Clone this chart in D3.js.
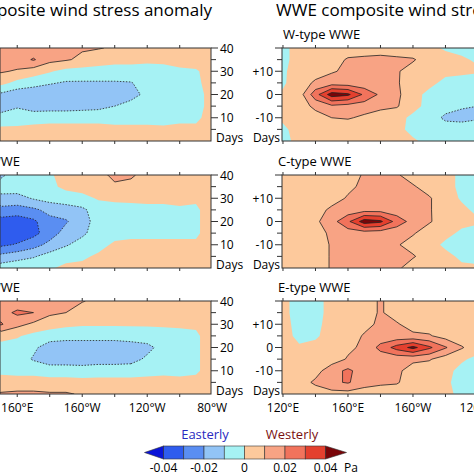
<!DOCTYPE html>
<html><head><meta charset="utf-8">
<script src="https://cdn.jsdelivr.net/npm/d3@7"></script>
<style>body{margin:0;background:#fff}text{font-family:"Open Sans",sans-serif}</style>
</head><body><svg id="c" width="474" height="474"></svg>
<script>
// wind stress anomaly, units of 0.01 Pa; rows from top (latest day) to bottom
var leftLons = [150,160,170,180,190,200,210,220,230,240,250,260,270,280];
var leftDays = [40,35,30,25,20,15,10,5,0];
var rightLons = [120,130,140,150,160,170,180,190,200,210,220,230,240];
var rightDays = [20,15,10,5,0,-5,-10,-15,-20];

var allWWE = [
 [1.5,1.4,1.3,1.2,1.15,1.1,1.05,0.9,0.5,0.4,0.3,0.3,0.3,0.3],
 [1.4,1.5,2.1,1.3,1.1,0.8,0.5,0.3,0.3,0.2,0.2,0.2,0.2,0.3],
 [1.1,0.9,0.5,0.1,-0.3,-0.4,-0.4,-0.4,-0.4,-0.4,-0.3,-0.1,-0.05,0.2],
 [0.3,-0.3,-0.6,-0.9,-1.1,-1.1,-1.1,-1.1,-1.05,-0.6,-0.5,-0.3,-0.1,0.2],
 [-1.2,-1.6,-1.7,-1.7,-1.7,-1.7,-1.6,-1.6,-1.4,-0.7,-0.5,-0.4,-0.2,0.2],
 [-1.5,-1.1,-1.5,-1.5,-1.5,-1.4,-1.3,-1.0,-0.6,-0.4,-0.3,-0.3,-0.2,0.2],
 [-0.6,-0.5,-0.4,-0.3,-0.3,-0.3,-0.3,-0.3,-0.3,-0.3,-0.2,-0.1,-0.1,0.2],
 [0.2,0.2,0.3,0.3,0.3,0.3,0.3,0.2,0.2,0.2,0.1,0.1,0.1,0.2],
 [0.3,0.3,0.3,0.3,0.3,0.3,0.3,0.3,0.3,0.3,0.2,0.2,0.2,0.3]];
var leftC = [
 [-1.2,-0.5,-0.3,-0.1,0.3,0.5,0.6,1.3,1.2,0.5,0.4,0.3,0.3,0.3],
 [-0.5,-0.4,-0.3,-0.2,0.2,0.4,0.5,0.8,0.6,0.4,0.3,0.3,0.3,0.3],
 [-1.3,-1.4,-0.9,-0.6,-0.4,-0.3,0.1,0.2,0.2,0.2,0.2,0.2,0.1,0.3],
 [-2.3,-2.4,-2.2,-1.7,-1.5,-1.2,-0.5,-0.4,-0.3,-0.2,-0.2,-0.1,-0.1,0.3],
 [-3.4,-3.6,-3.2,-2.3,-2.1,-1.4,-0.6,-0.5,-0.3,-0.3,-0.2,-0.2,-0.1,0.3],
 [-3.6,-3.7,-3.3,-2.5,-1.6,-1.2,-0.5,-0.4,-0.3,-0.3,-0.2,-0.2,-0.1,0.3],
 [-3.2,-2.9,-2.4,-1.7,-1.1,-0.6,-0.4,0.2,0.3,0.3,0.2,0.2,0.1,0.3],
 [-1.7,-1.4,-1.1,-0.6,-0.3,-0.2,0.2,0.3,0.3,0.3,0.3,0.2,0.1,0.3],
 [-0.5,-0.3,-0.2,-0.1,0.2,0.3,0.3,0.3,0.3,0.3,0.3,0.2,0.1,0.3]];
var leftE = [
 [1.3,1.3,1.2,1.2,1.1,1.05,0.8,0.4,0.3,0.3,0.3,0.3,0.3,0.3],
 [1.6,2.2,2.0,1.2,1.0,0.6,0.4,0.3,0.3,0.2,0.2,0.2,0.2,0.3],
 [2.1,1.3,0.8,0.4,0.2,0.1,0.1,0.1,0.1,0.1,0.1,0.1,0.1,0.3],
 [0.3,0.1,-0.3,-0.5,-0.6,-0.6,-0.6,-0.6,-0.5,-0.4,-0.3,-0.2,-0.1,0.3],
 [-0.3,-0.4,-0.8,-1.5,-1.6,-1.6,-1.6,-1.6,-1.5,-1.3,-0.6,-0.3,-0.1,0.3],
 [-0.3,-0.5,-1.1,-1.5,-1.5,-1.6,-1.5,-1.5,-1.4,-0.8,-0.4,-0.3,-0.1,0.3],
 [-0.2,-0.3,-0.3,-0.5,-0.5,-0.5,-0.4,-0.4,-0.4,-0.3,-0.2,-0.2,-0.1,0.3],
 [0.4,0.4,0.4,0.4,0.4,0.3,0.3,0.3,0.3,0.3,0.3,0.2,0.2,0.3],
 [1.1,1.2,1.2,1.1,1.1,0.9,0.5,0.4,0.3,0.3,0.3,0.3,0.3,0.3]];
var rightW = [
 [-0.2,0.3,0.4,0.4,0.5,0.5,0.5,0.4,0.3,0.2,-0.1,-0.2,-0.2],
 [-0.2,0.3,0.4,0.6,1.1,1.2,1.3,1.2,1.1,0.5,0.3,0.1,-0.1],
 [-0.1,0.3,0.5,0.9,1.2,1.3,1.2,1.1,0.6,0.4,0.3,0.2,0.1],
 [-0.1,0.4,1.2,1.5,1.4,1.3,1.2,1.1,0.5,0.3,-0.3,-0.4,-0.5],
 [0.1,0.5,2.6,4.5,4.2,2.8,1.8,1.2,0.4,-0.3,-0.5,-0.6,-0.6],
 [0.1,0.4,1.3,1.8,1.6,1.5,1.3,1.1,0.3,-0.3,-0.6,-0.9,-1.0],
 [0.1,0.3,0.5,1.0,1.1,0.8,0.4,0.3,-0.2,-0.5,-1.2,-1.3,-1.1],
 [-0.1,0.2,0.3,0.3,0.3,0.3,0.3,0.2,-0.2,-0.4,-0.5,-0.5,-0.5],
 [-0.2,0.2,0.3,0.3,0.3,0.3,0.3,0.2,0.1,-0.2,-0.3,-0.3,-0.3]];
var rightC = [
 [0.3,0.3,0.4,0.5,0.6,1.1,1.2,1.1,0.6,0.5,0.3,-0.2,-0.3],
 [0.3,0.4,0.4,0.5,0.8,1.2,1.3,1.2,1.1,0.6,0.3,-0.2,-0.3],
 [0.3,0.4,0.5,0.6,1.1,1.3,1.4,1.3,1.2,1.1,0.4,-0.1,-0.3],
 [0.3,0.4,0.6,1.2,1.4,1.6,1.6,1.4,1.2,1.1,0.4,0.2,-0.2],
 [0.3,0.4,0.8,1.6,2.8,4.5,4.2,2.6,1.6,1.1,0.5,0.3,0.1],
 [0.3,0.4,0.6,1.2,1.5,1.5,1.4,1.3,1.1,0.5,0.3,-0.2,-0.3],
 [0.3,0.4,0.5,1.1,1.3,1.2,1.2,1.1,0.6,0.4,-0.2,-0.3,-0.3],
 [0.3,0.4,0.5,1.1,1.2,1.2,1.2,1.1,1.1,0.5,0.3,-0.2,-0.2],
 [0.3,0.4,0.5,1.1,1.2,1.2,1.3,1.2,0.5,0.3,0.3,0.2,0.1]];
var rightE = [
 [0.2,-0.3,-0.3,0.3,0.5,0.6,1.1,0.6,0.5,0.4,0.3,0.3,0.2],
 [0.2,-0.3,-0.3,0.3,0.4,0.6,1.1,0.6,0.5,0.4,0.3,0.3,0.2],
 [0.3,-0.3,-0.2,0.3,0.4,0.7,1.2,1.1,0.6,0.5,0.4,0.3,0.3],
 [0.3,-0.2,-0.1,0.3,0.5,1.1,1.4,1.3,1.2,1.1,0.6,0.3,0.2],
 [0.3,0.1,0.2,0.4,0.8,1.2,2.3,3.4,4.3,3.2,2.1,1.1,0.3],
 [0.3,0.2,0.3,0.5,1.1,1.3,1.4,1.3,1.2,1.1,0.5,0.1,-0.2],
 [0.3,0.3,0.6,1.6,2.2,1.5,1.3,1.2,0.6,0.4,0.2,-0.2,-0.3],
 [0.3,0.5,1.2,1.8,2.1,1.4,1.2,1.1,0.5,0.3,0.1,-0.2,-0.3],
 [0.3,0.3,0.4,0.6,0.6,0.5,0.4,0.4,0.3,0.3,0.2,-0.2,-0.3]];

var levels = [-4,-3,-2,-1,0,1,2,3,4];
var colors = ["#0a14d8","#2f5cee","#5a8ef2","#92c4f6","#a6f2f4","#fdc99c","#f8a384","#f1735c","#e4402e","#7a0508"];
var lineLevels = [-4,-3,-2,-1,1,2,3,4];

var svg = d3.select("#c");

var lonLabel = function(l){ return l < 180 ? l + "°E" : l == 180 ? "180" : (360 - l) + "°W"; };

function panel(x0, y0, w, h, lons, days, grid, side, idx){
  var x = d3.scaleLinear().domain([lons[0] - 0.6, lons[0] - 0.6 + w / 1.625]).range([x0, x0 + w]);
  var y = d3.scaleLinear().domain([days[days.length-1], days[0]]).range([y0 + h, y0]);
  var nx = lons.length, ny = days.length;
  var values = [];
  grid.forEach(function(r){ r.forEach(function(v){ values.push(v); }); });
  var proj = d3.geoTransform({point: function(px, py){
    var lon = lons[0] + (px - 0.5) * (lons[1] - lons[0]);
    var day = days[0] + (py - 0.5) * (days[1] - days[0]);
    this.stream.point(x(lon), y(day));
  }});
  var path = d3.geoPath(proj);
  var id = "clip" + idx;
  svg.append("clipPath").attr("id", id).append("rect")
    .attr("x", x0).attr("y", y0).attr("width", w).attr("height", h);
  var g = svg.append("g").attr("clip-path", "url(#" + id + ")");
  g.append("rect").attr("x", x0).attr("y", y0).attr("width", w).attr("height", h).attr("fill", colors[0]);
  var gen = d3.contours().size([nx, ny]);
  levels.forEach(function(t, i){
    g.append("path").attr("d", path(gen.contour(values, t))).attr("fill", colors[i + 1]);
  });
  lineLevels.forEach(function(t){
    var c = gen.contour(values, t);
    g.append("path").attr("d", path(c)).attr("fill", "none")
      .attr("stroke", "#222").attr("stroke-width", 0.8)
      .attr("stroke-dasharray", t < 0 ? "1.5,1.5" : null);
  });
  svg.append("rect").attr("x", x0).attr("y", y0).attr("width", w).attr("height", h)
    .attr("fill", "none").attr("stroke", "#333").attr("stroke-width", 1);
  // lon ticks
  var lt = d3.range(120, 290, 20).filter(function(l){ return x(l) >= x0 - 0.5 && x(l) <= x0 + w + 0.5; });
  lt.forEach(function(l){
    svg.append("line").attr("x1", x(l)).attr("x2", x(l)).attr("y1", y0).attr("y2", y0 - 3).attr("stroke", "#333");
    svg.append("line").attr("x1", x(l)).attr("x2", x(l)).attr("y1", y0 + h).attr("y2", y0 + h + 3).attr("stroke", "#333");
  });
  // day ticks
  var ax = side == "right" ? x0 + w : x0;
  var dir = side == "right" ? 1 : -1;
  d3.range(days[days.length-1] + 5, days[0] + 1, 5).forEach(function(d){
    var major = d % 10 == 0;
    svg.append("line").attr("x1", ax).attr("x2", ax + dir * (major ? 7 : 5))
      .attr("y1", y(d)).attr("y2", y(d)).attr("stroke", "#333");
    if (major && d != days[0] || (major && side == "right")) {
      svg.append("text").attr("x", ax + dir * 9).attr("y", y(d) + 4.5)
        .attr("text-anchor", side == "right" ? "start" : "end").attr("font-size", 12)
        .text(side == "right" ? d : (d > 0 ? "+" + d : d));
    }
  });
  svg.append("text").attr("x", side == "right" ? ax + 5 : ax - 2).attr("y", y0 + h + 1)
    .attr("text-anchor", side == "right" ? "start" : "end").attr("font-size", 12).text("Days");
  return x;
}

var rows = [48, 175, 301], ph = 93;
var names = ["W-type WWE", "C-type WWE", "E-type WWE"];
var lg = [allWWE, leftC, leftE], rg = [rightW, rightC, rightE];
var lx, rx;
rows.forEach(function(y0, i){
  lx = panel(0, y0, 211, ph, leftLons, leftDays, lg[i], "right", "L" + i);
  rx = panel(282, y0, 200, ph, rightLons, rightDays, rg[i], "left", "R" + i);
  svg.append("text").attr("x", i == 0 ? 283 : 278).attr("y", y0 - 9).attr("font-size", 13).text(names[i]);
  if (i > 0) svg.append("text").attr("x", 20).attr("y", y0 - 9).attr("text-anchor", "end").attr("font-size", 13).text(names[i]);
});
[160, 200, 240, 280].forEach(function(l){
  svg.append("text").attr("x", lx(l)).attr("y", 412).attr("text-anchor", "middle").attr("font-size", 12).text(lonLabel(l));
});
[120, 160, 200, 240].forEach(function(l){
  svg.append("text").attr("x", rx(l)).attr("y", 412).attr("text-anchor", "middle").attr("font-size", 12).text(lonLabel(l));
});
svg.append("text").attr("x", 212).attr("y", 16).attr("text-anchor", "end").attr("font-size", 17).text("Composite wind stress anomaly");
svg.append("text").attr("x", 276).attr("y", 16).attr("font-size", 17).text("WWE composite wind stress anomaly");

// colour bar
var cb = d3.scaleLinear().domain([-4, 4]).range([163.5, 325.5]);
var by = 446, bh = 13;
d3.range(-4, 4).forEach(function(v, i){
  svg.append("rect").attr("x", cb(v)).attr("y", by).attr("width", cb(v + 1) - cb(v)).attr("height", bh)
    .attr("fill", colors[i + 1]).attr("stroke", "#333").attr("stroke-width", 0.6);
});
svg.append("path").attr("d", "M" + cb(-4) + "," + by + "L" + (cb(-4) - 19) + "," + (by + bh / 2) + "L" + cb(-4) + "," + (by + bh) + "Z")
  .attr("fill", colors[0]).attr("stroke", "#333").attr("stroke-width", 0.6);
svg.append("path").attr("d", "M" + cb(4) + "," + by + "L" + (cb(4) + 21) + "," + (by + bh / 2) + "L" + cb(4) + "," + (by + bh) + "Z")
  .attr("fill", colors[9]).attr("stroke", "#333").attr("stroke-width", 0.6);
[-4, -2, 0, 2, 4].forEach(function(v){
  svg.append("text").attr("x", cb(v)).attr("y", 472).attr("text-anchor", "middle").attr("font-size", 12)
    .text(v == 0 ? "0" : (v / 100).toFixed(2));
});
svg.append("text").attr("x", 351).attr("y", 472).attr("text-anchor", "middle").attr("font-size", 12).text("Pa");
svg.append("text").attr("x", 205).attr("y", 439).attr("text-anchor", "middle").attr("font-size", 13).attr("fill", "#2a2ac0").text("Easterly");
svg.append("text").attr("x", 292).attr("y", 439).attr("text-anchor", "middle").attr("font-size", 13).attr("fill", "#7a1010").text("Westerly");
</script></body></html>
